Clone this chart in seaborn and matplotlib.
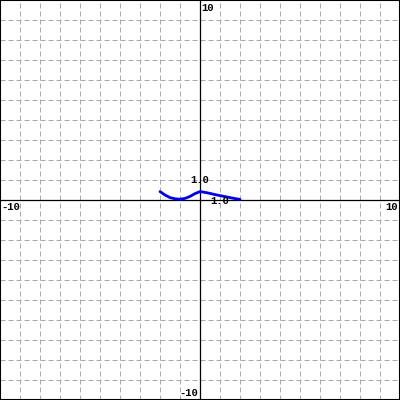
import numpy as np
import pandas as pd
import seaborn as sb
import matplotlib
matplotlib.use("Agg")
import matplotlib.pyplot as plt

#### data
curve_x = [-2.0, -1.75, -1.5, -1.25, -1.0, -0.75, -0.5, -0.25, 0.0,
           0.25, 0.5, 0.75, 1.0, 1.25, 1.5, 1.75, 2.0]
curve_y = [0.42, 0.25, 0.12, 0.06, 0.04, 0.08, 0.18, 0.32, 0.42,
           0.38, 0.33, 0.27, 0.22, 0.17, 0.12, 0.07, 0.03]
grid_ticks = list(range(-10, 11))
lim = [-10, 10]

sb.set_style("white")
plt.rcParams['font.family'] = ['Liberation Mono', 'DejaVu Sans Mono']

fig = plt.figure(figsize=(4, 4), dpi=100)
ax = fig.add_axes([0, 0, 1, 1])

df = pd.DataFrame({"x": curve_x, "y": curve_y})

ax.set_xlim(lim)
ax.set_ylim(lim)
ax.set_xticks(grid_ticks)
ax.set_yticks(grid_ticks)
ax.tick_params(length=0, labelbottom=False, labelleft=False)
ax.grid(True, color='#aaaaaa', linestyle=(0, (5, 3)), linewidth=0.72)

## axes through origin
ax.axhline(0, color='black', lw=0.9, zorder=2)
ax.axvline(0, color='black', lw=0.9, zorder=2)

sb.lineplot(data=df, x="x", y="y", ax=ax, color='#0000ee', lw=2.0,
            sort=False, zorder=3)
ax.set_xlabel("")
ax.set_ylabel("")

for s in ax.spines.values():
    s.set_visible(True)
    s.set_color('black')
    s.set_linewidth(1.5)

fs = 7.6
kw = dict(fontsize=fs, fontweight='bold', color='black')
ax.text(0.05, 9.85, "10", ha='left', va='top', **kw)
ax.text(-9.95, -0.12, "-10", ha='left', va='top', **kw)
ax.text(9.9, -0.12, "10", ha='right', va='top', **kw)
ax.text(-0.1, -9.9, "-10", ha='right', va='bottom', **kw)
ax.text(0.0, 0.75, "1.0", ha='center', va='bottom', **kw)
ax.text(0.5, -0.07, "1.0", ha='left', va='center', **kw)

fig.savefig("out.png", dpi=100)
